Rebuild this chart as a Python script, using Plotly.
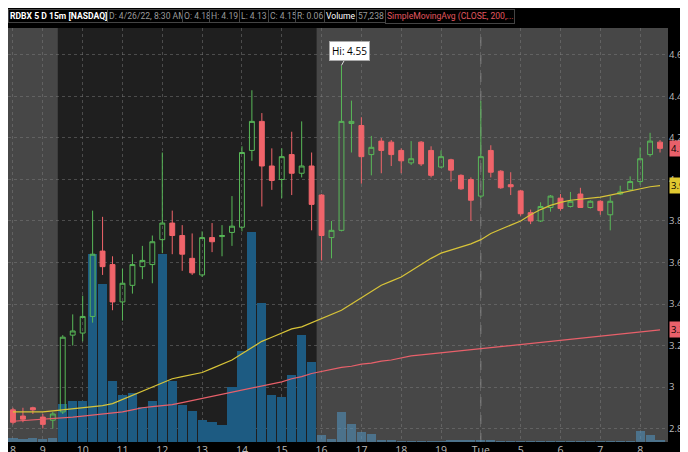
import plotly.graph_objects as go

idx = list(range(66))
opens = [2.89,2.86,2.90,2.855,2.84,2.88,3.25,3.26,3.34,3.655,3.59,3.41,3.49,3.58,3.59,3.71,3.79,3.73,3.62,3.54,3.72,3.725,3.745,3.77,4.14,4.28,4.065,4.00,4.12,4.03,4.065,3.925,3.72,3.755,4.27,4.26,4.12,4.185,4.18,4.14,4.08,4.18,4.14,4.06,4.095,4.02,4.00,3.92,4.14,4.04,3.975,3.945,3.84,3.80,3.865,3.91,3.87,3.93,3.865,3.895,3.83,3.93,3.95,3.99,4.12,4.18]
highs = [2.90,2.90,2.905,2.87,2.88,3.25,3.35,3.44,3.85,3.82,3.63,3.57,3.64,3.68,3.73,4.13,3.85,3.78,3.74,3.75,3.79,3.78,3.92,4.16,4.43,4.32,4.15,4.15,4.23,4.28,4.13,3.93,3.80,4.55,4.38,4.30,4.21,4.20,4.19,4.15,4.185,4.185,4.16,4.14,4.10,4.025,4.01,4.38,4.165,4.045,4.035,3.95,3.855,3.89,3.925,3.93,3.94,3.96,3.90,3.90,3.92,3.97,4.015,4.155,4.225,4.19]
lows = [2.82,2.83,2.87,2.80,2.80,2.87,3.20,3.22,3.31,3.54,3.37,3.32,3.45,3.52,3.50,3.645,3.64,3.56,3.54,3.53,3.65,3.63,3.68,3.75,4.09,3.87,3.95,3.91,3.925,4.01,3.755,3.61,3.62,3.75,4.13,3.98,4.02,4.03,4.065,4.03,4.07,4.065,4.01,4.055,3.99,3.95,3.80,3.91,4.01,3.955,3.925,3.825,3.785,3.795,3.845,3.85,3.865,3.865,3.86,3.83,3.755,3.925,3.945,3.975,4.11,4.13]
closes = [2.83,2.845,2.89,2.82,2.87,3.24,3.27,3.34,3.64,3.58,3.41,3.50,3.59,3.61,3.70,3.79,3.73,3.64,3.55,3.72,3.70,3.73,3.775,4.13,4.28,4.065,3.995,4.11,4.03,4.065,3.88,3.73,3.755,4.28,4.28,4.11,4.155,4.14,4.12,4.09,4.10,4.075,4.02,4.11,4.045,3.955,3.90,4.11,4.035,3.96,3.965,3.835,3.80,3.87,3.92,3.86,3.895,3.865,3.895,3.85,3.895,3.94,3.99,4.10,4.185,4.15]
volume = [12,9,12,9,12,114,123,123,564,474,183,141,147,105,123,564,183,111,93,66,60,51,165,273,630,417,141,135,201,321,240,21,9,90,54,30,24,6,6,3,3,3,3,3,6,6,6,6,6,3,3,3,3,3,3,3,3,3,3,3,3,3,3,33,21,6]
sma_fast = [2.88,2.88,2.88,2.88,2.885,2.89,2.895,2.90,2.905,2.91,2.92,2.94,2.96,2.98,3.00,3.02,3.04,3.05,3.06,3.07,3.09,3.11,3.13,3.16,3.19,3.22,3.24,3.26,3.28,3.29,3.31,3.33,3.35,3.37,3.40,3.43,3.46,3.49,3.51,3.53,3.56,3.59,3.62,3.645,3.66,3.675,3.69,3.71,3.74,3.76,3.78,3.80,3.83,3.855,3.875,3.89,3.90,3.905,3.91,3.915,3.925,3.935,3.945,3.955,3.965,3.97]
sma_200 = [2.835,2.838,2.84,2.843,2.846,2.85,2.855,2.86,2.865,2.87,2.875,2.88,2.89,2.90,2.905,2.91,2.915,2.925,2.935,2.945,2.955,2.965,2.975,2.985,2.995,3.005,3.015,3.025,3.04,3.05,3.065,3.075,3.085,3.095,3.10,3.11,3.115,3.125,3.13,3.14,3.15,3.155,3.16,3.165,3.17,3.175,3.18,3.185,3.19,3.195,3.20,3.205,3.21,3.215,3.22,3.225,3.23,3.235,3.24,3.245,3.25,3.255,3.26,3.265,3.27,3.275]
tick_pos = [0,3,7,11,15,19,23,27,31,35,39,43,47,51,55,59,63]
tick_text = ["8","9","10","11","12","13","14","15","16","17","18","19","Tue","5","6","7","8"]
price_ticks = [2.8,3.0,3.2,3.4,3.6,3.8,4.0,4.2,4.4,4.6]
price_text = ["2.8","3","3.2","3.4","3.6","3.8","4","4.2","4.4","4.6"]
session_start, session_end = 4.5, 30.5

vol_colors = ["#1d5b82" if session_start < i < session_end else "rgba(80,150,195,0.55)" for i in idx]

fig = go.Figure()
fig.add_trace(go.Bar(x=idx, y=volume, marker=dict(color=vol_colors, line_width=0), width=0.92, yaxis="y", showlegend=False))
fig.add_trace(go.Scatter(x=idx, y=sma_200, mode="lines", line=dict(color="#e8606a", width=1.2), yaxis="y2", showlegend=False))
fig.add_trace(go.Scatter(x=idx, y=sma_fast, mode="lines", line=dict(color="#d8c438", width=1.2), yaxis="y2", showlegend=False))
fig.add_trace(go.Candlestick(x=idx, open=opens, high=highs, low=lows, close=closes, yaxis="y2",
    increasing=dict(line=dict(color="#58b858", width=1), fillcolor="rgba(0,0,0,0)"),
    decreasing=dict(line=dict(color="#f0646a", width=1), fillcolor="#f0646a"),
    whiskerwidth=0, showlegend=False))

fig.add_shape(type="rect", xref="x", yref="paper", x0=session_start, x1=session_end, y0=0, y1=1,
              fillcolor="#1f1f1f", line_width=0, layer="below")
fig.add_shape(type="line", xref="x", yref="paper", x0=47, x1=47, y0=0, y1=1,
              line=dict(color="rgba(170,170,170,0.6)", width=1, dash="dash"), layer="below")

W, R = 660, 28
header = [
    (0, "<b>RDBX 5 D 15m [NASDAQ]</b>", "#ffffff"),
    (99, "D: 4/26/22, 8:30 AM", "#9a9a9a"),
    (174, "O: 4.18", "#9a9a9a"),
    (201, "H: 4.19", "#9a9a9a"),
    (231, "L: 4.13", "#9a9a9a"),
    (260, "C: 4.15", "#9a9a9a"),
    (287, "R: 0.06", "#9a9a9a"),
    (316, "Volume", "#ffffff"),
    (348, "57,238", "#9a9a9a"),
    (377, "SimpleMovingAvg (CLOSE, 200,...", "#e0575f"),
]
ann = []
for x0, txt, col in header:
    ann.append(dict(xref="paper", yref="paper", x=x0 / W, y=1, yshift=19, xanchor="left", yanchor="top",
                    text=txt, showarrow=False, font=dict(color=col, size=8.6, family="Roboto"),
                    bordercolor="#444", borderwidth=1, borderpad=1, bgcolor="#000"))
ann.append(dict(x=33, y=4.55, yref="y2", text="Hi: 4.55", showarrow=True, arrowhead=0, ax=8, ay=-14,
                arrowcolor="#ddd", font=dict(color="#000", size=10), bgcolor="#ffffff", bordercolor="#aaa", borderpad=2))
for v in [closes[-1], sma_fast[-1], sma_200[-1]]:
    bg = "#e0c830" if v == sma_fast[-1] else "#e8606a"
    ann.append(dict(xref="paper", x=1, y=v, yref="y2", xanchor="left", text=f"{v:.2f}", showarrow=False,
                    font=dict(color="#000", size=9.5), bgcolor=bg, borderpad=1, xshift=1))
fig.update_layout(annotations=ann)

fig.update_layout(
    width=688, height=452, margin=dict(l=0, r=R, t=20, b=18),
    paper_bgcolor="#000000", plot_bgcolor="#474747",
    bargap=0, hovermode=False,
    xaxis=dict(range=[-0.5, 65.8], tickvals=tick_pos, ticktext=tick_text, rangeslider=dict(visible=False),
               showgrid=True, gridcolor="rgba(130,130,130,0.45)", griddash="dot", zeroline=False, automargin=False,
               tickfont=dict(color="#bbbbbb", size=10.5, family="Open Sans"), ticks="", showline=False, ticklabelstandoff=0),
    yaxis=dict(range=[0, 1242], visible=False, showgrid=False, fixedrange=True, automargin=False),
    yaxis2=dict(overlaying="y", side="right", range=[2.735, 4.730], tickvals=price_ticks, ticktext=price_text, automargin=False,
                showgrid=True, gridcolor="rgba(130,130,130,0.45)", griddash="dot", zeroline=False,
                tickfont=dict(color="#bbbbbb", size=9.5, family="Open Sans"), ticks=""),
)
fig.write_html("out.html")
